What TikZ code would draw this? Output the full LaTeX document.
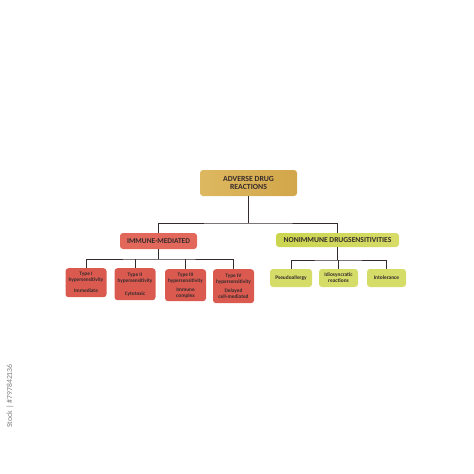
\documentclass[tikz,border=0pt]{standalone}
\usepackage{fontspec}
\setmainfont{Carlito}
\usepackage{tikz}

\definecolor{goldA}{HTML}{DDB860}
\definecolor{goldB}{HTML}{D2A64A}
\definecolor{redA}{HTML}{E2685C}
\definecolor{redB}{HTML}{DA5A50}
\definecolor{limeA}{HTML}{CCD550}
\definecolor{limeB}{HTML}{D6DC68}
\definecolor{inkgray}{HTML}{352B2B}

\tikzset{
    box/.style={rounded corners=3pt, inner sep=0pt, align=center, text=inkgray, font=\bfseries},
    topbox/.style={box, left color=goldA, right color=goldB, minimum width=97pt, minimum height=26pt, font=\fontsize{7.8}{7.4}\selectfont\bfseries},
    midred/.style={box, fill=redA, minimum width=77pt, minimum height=16pt, font=\fontsize{7.4}{8}\selectfont\bfseries},
    midlime/.style={box, left color=limeA, right color=limeB, minimum width=123pt, minimum height=14pt, font=\fontsize{7.6}{8}\selectfont\bfseries},
    typebox/.style={box, fill=redB, anchor=north, minimum width=41pt, font=\fontsize{5.3}{6}\selectfont\bfseries},
    limebox/.style={box, fill=limeB, minimum width=40pt, minimum height=18pt, font=\fontsize{5.4}{6}\selectfont\bfseries},
    wire/.style={draw=inkgray, line width=0.8pt}
}

\begin{document}
\begin{tikzpicture}[x=1pt, y=-1pt]
            \useasboundingbox (0,0) rectangle (474,474);

            \node (adr) at (248.5, 183) [topbox] {ADVERSE DRUG\\REACTIONS};

            \node (immune) at (158.5, 241) [midred] {IMMUNE-MEDIATED};
            \node (nonimm) at (337.5, 240) [midlime] {NONIMMUNE DRUGSENSITIVITIES};

            \node (typeI) at (86, 268) [typebox, minimum height=29pt] {Type I\\hypersensitivity\\[5pt]Immediate};
            \node (typeII) at (135, 268) [typebox, minimum height=32pt] {Type II\\hypersensitivity\\[7pt]Cytotoxic};
            \node (typeIII) at (185.5, 269) [typebox, minimum height=32pt] {Type III\\hypersensitivity\\[3pt]Immune\\complex};
            \node (typeIV) at (233.5, 269) [typebox, minimum height=34pt] {Type IV\\hypersensitivity\\[3pt]Delayed\\cell-mediated};

            \node (pseudo) at (291, 278) [limebox, minimum width=42pt] {Pseudoallergy};
            \node (idio) at (338.5, 278) [limebox, minimum width=39pt] {Idiosyncratic\\reactions};
            \node (intol) at (386.5, 278) [limebox, minimum width=39pt] {Intolerance};

            % junctions
            \coordinate (busTop) at (248.5, 223);
            \coordinate (busImm) at (158.5, 259);
            \coordinate (busNon) at (337.5, 260);

            \draw [wire] (adr.south) -- (busTop);
            \draw [wire] (immune.north) |- (busTop) -| (nonimm.north);

            \draw [wire] (immune.south) -- (busImm);
            \draw [wire] (typeI.north) |- (busImm) -| (typeIV.north);
            \draw [wire] (typeII.north) -- (typeII.north |- busImm);
            \draw [wire] (typeIII.north) -- (typeIII.north |- busImm);

            \draw [wire] (nonimm.south) -- (busNon);
            \draw [wire] (pseudo.north) |- (busNon) -| (intol.north);
            \draw [wire] (idio.north) -- (idio.north |- busNon);

            \node (stockid) at (10, 396) [rotate=90, text=gray, font=\fontsize{7.8}{8}\selectfont] {Stock | \#797842136};
        \end{tikzpicture}
\end{document}
